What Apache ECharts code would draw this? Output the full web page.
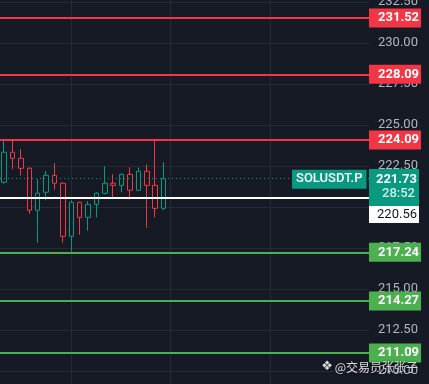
<!DOCTYPE html>
<html><head><meta charset="utf-8">
<script src="https://cdn.jsdelivr.net/npm/echarts@6/dist/echarts.min.js"></script>
<style>html,body{margin:0;padding:0;background:#161a25;}#c{width:429px;height:384px;}</style>
</head><body><div id="c"></div>
<script>
// ---- data ----
const slotCount = 44;
const categories = Array.from({length: slotCount}, (_, i) => 'k' + (i + 1));
const opens  = [221.51, 223.34, 222.97, 222.36, 219.80, 220.90, 221.93, 221.45, 218.21, 220.29, 219.37, 220.16, 220.84, 221.45, 221.32, 221.99, 221.02, 222.18, 221.32, 219.92];
const closes = [223.34, 222.97, 222.36, 219.80, 220.84, 221.93, 221.45, 218.21, 220.29, 219.37, 220.16, 220.84, 221.45, 221.32, 221.99, 221.02, 222.18, 221.32, 219.92, 221.73];
const lows   = [221.42, 222.30, 221.91, 219.59, 217.82, 220.41, 221.05, 217.82, 217.28, 218.31, 218.55, 219.37, 220.77, 220.59, 220.90, 220.47, 221.00, 218.74, 219.37, 219.80];
const highs  = [224.09, 224.05, 223.54, 222.42, 221.69, 222.20, 222.68, 221.50, 220.41, 220.32, 220.35, 220.90, 222.48, 221.99, 222.05, 222.42, 222.42, 222.60, 224.09, 222.73];
const yMin = 210, yMax = 232.5, yStep = 2.5;
const resistanceLevels = [231.52, 228.09, 224.09];
const supportLevels = [217.24, 214.27, 211.09];
const lastPrice = 221.73;
const countdown = '28:52';
const markPrice = 220.56;
const symbolName = 'SOLUSDT.P';
const watermark = '@交易员张张子';

// ---- style ----
const BG = '#161a25', GRID = '#262a35', AXIS_TXT = '#b2b5be';
const RED = '#f23645', GREEN = '#4caf50', TEAL = '#089981';
const GRID_RIGHT = 60;

const candleData = opens.map((o, i) => [o, closes[i], lows[i], highs[i]]);

function levelLine(v, color) {
  return {
    yAxis: v,
    lineStyle: {color: color, width: 2, type: 'solid'},
    label: {
      show: true, position: 'end', distance: 0,
      formatter: p => Number(p.value).toFixed(2),
      color: '#ffffff', fontWeight: 'bold', fontSize: 13, fontFamily: 'Roboto',
      backgroundColor: color, padding: [3, 2, 2, 9], lineHeight: 14
    }
  };
}

const chart = echarts.init(document.getElementById('c'), null, {renderer: 'canvas'});
const option = {
  backgroundColor: BG,
  animation: false,
  grid: [
    {left: 0, right: GRID_RIGHT, top: 2, bottom: 13, containLabel: false, outerBoundsMode: 'none'},
    {left: 71, right: 59.5, top: 0, bottom: 0, containLabel: false, outerBoundsMode: 'none'}
  ],
  xAxis: [
    {type: 'category', data: categories, gridIndex: 0, boundaryGap: true,
     axisLine: {show: false}, axisTick: {show: false}, axisLabel: {show: false}, splitLine: {show: false}},
    {type: 'value', gridIndex: 1, min: 0, max: 3, interval: 1,
     axisLine: {show: false}, axisTick: {show: false}, axisLabel: {show: false},
     splitLine: {show: true, lineStyle: {color: [GRID, GRID, GRID, 'rgba(0,0,0,0)'], width: 1}}}
  ],
  yAxis: [
    {type: 'value', gridIndex: 0, position: 'right', min: yMin, max: yMax, interval: yStep, scale: true,
     axisLine: {show: false}, axisTick: {show: false},
     axisLabel: {margin: 9, color: AXIS_TXT, fontSize: 13, fontFamily: 'Roboto', formatter: v => v.toFixed(2)},
     splitLine: {show: true, lineStyle: {color: GRID, width: 1}}},
    {type: 'value', gridIndex: 1, show: false, min: 0, max: 1}
  ],
  series: [{
    type: 'candlestick',
    xAxisIndex: 0, yAxisIndex: 0,
    data: candleData,
    barWidth: 5,
    itemStyle: {color: BG, color0: BG, borderColor: TEAL, borderColor0: RED, borderWidth: 1},
    markLine: {
      silent: true, symbol: 'none', animation: false, z: 5,
      data: [
        ...resistanceLevels.map(v => levelLine(v, RED)),
        ...supportLevels.map(v => levelLine(v, GREEN)),
        {yAxis: markPrice, lineStyle: {color: '#ffffff', width: 2, type: 'solid'}, label: {show: false}},
        {yAxis: lastPrice, lineStyle: {color: TEAL, width: 1, type: [1, 3]}, label: {show: false}}
      ]
    }
  }]
};
chart.setOption(option);

const W = chart.getWidth();
const plotRight = W - GRID_RIGHT;
const yLast = chart.convertToPixel({yAxisIndex: 0}, lastPrice);
const lastTop = yLast - 9.6, lastH = 37;
const markTop = lastTop + lastH, markH = 17;

chart.setOption({
  graphic: [
    {type: 'text', z: 100, x: plotRight - 2.5, y: yLast + 0.5,
     style: {text: symbolName, align: 'right', verticalAlign: 'middle', fill: '#ffffff',
             backgroundColor: TEAL, padding: [3, 4, 3, 4], fontSize: 13, fontFamily: 'Roboto', fontWeight: 500}},
    {type: 'rect', z: 100, shape: {x: plotRight, y: lastTop, width: 50, height: lastH}, style: {fill: TEAL}},
    {type: 'text', z: 101, x: plotRight + 48, y: yLast + 0.7,
     style: {text: lastPrice.toFixed(2), align: 'right', verticalAlign: 'middle', fill: '#ffffff',
             fontSize: 13, fontWeight: 'bold', fontFamily: 'Roboto'}},
    {type: 'text', z: 101, x: plotRight + 46, y: yLast + 15.4,
     style: {text: countdown, align: 'right', verticalAlign: 'middle', fill: 'rgba(255,255,255,0.82)',
             fontSize: 13, fontWeight: 500, fontFamily: 'Roboto'}},
    {type: 'rect', z: 100, shape: {x: plotRight, y: markTop, width: 50, height: markH}, style: {fill: '#ffffff'}},
    {type: 'text', z: 101, x: plotRight + 48, y: markTop + markH / 2,
     style: {text: markPrice.toFixed(2), align: 'right', verticalAlign: 'middle', fill: '#131722',
             fontSize: 13, fontFamily: 'Roboto'}},
    {type: 'text', z: 110, x: 418, y: 367,
     style: {text: watermark, align: 'right', verticalAlign: 'middle', fill: 'rgba(235,235,235,0.92)',
             fontSize: 12, fontFamily: '"Noto Sans CJK SC", sans-serif',
             textShadowColor: 'rgba(0,0,0,0.7)', textShadowBlur: 2}},
    {type: 'text', z: 110, x: 327, y: 367,
     style: {text: '❖', align: 'center', verticalAlign: 'middle', fill: 'rgba(235,235,235,0.92)',
             fontSize: 13, fontFamily: 'DejaVu Sans',
             textShadowColor: 'rgba(0,0,0,0.7)', textShadowBlur: 2}}
  ]
});
</script>
</body></html>
